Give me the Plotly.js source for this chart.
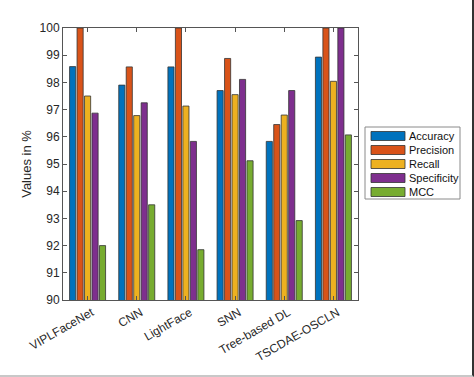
<!DOCTYPE html>
<html>
<head>
<meta charset="utf-8">
<script src="https://cdn.plot.ly/plotly-3.0.1.min.js"></script>
<style>
html,body{margin:0;padding:0;background:#fff;}
#wrap{width:472px;height:375px;border-right:2px solid #333;border-bottom:2px solid #c8c8c8;}
#chart{width:472px;height:375px;}
</style>
</head>
<body>
<div id="wrap"><div id="chart"></div></div>
<script>
const categories = ["VIPLFaceNet", "CNN", "LightFace", "SNN", "Tree-based DL", "TSCDAE-OSCLN"];
const seriesNames = ["Accuracy", "Precision", "Recall", "Specificity", "MCC"];
const accuracy    = [98.58, 97.90, 98.57, 97.70, 95.83, 98.93];
const precision   = [100.0, 98.57, 100.0, 98.88, 96.45, 100.0];
const recall      = [97.50, 96.78, 97.13, 97.55, 96.80, 98.04];
const specificity = [96.87, 97.25, 95.83, 98.11, 97.70, 100.0];
const mcc         = [92.00, 93.50, 91.85, 95.12, 92.92, 96.07];
const yTicks = [90, 91, 92, 93, 94, 95, 96, 97, 98, 99, 100];
const colors = ["#0072BD", "#D95319", "#EDB120", "#7E2F8E", "#77AC30"];

const seriesValues = [accuracy, precision, recall, specificity, mcc];
const traces = seriesValues.map((vals, i) => ({
  type: "bar",
  name: seriesNames[i],
  x: categories,
  y: vals,
  marker: {color: colors[i], line: {color: "#333333", width: 0.8}},
  showlegend: false
}));

const W = 472, H = 375;
const M = {l: 63, r: 114, t: 28, b: 75};
const pw = W - M.l - M.r, ph = H - M.t - M.b;
// pixel -> paper helpers for the legend box
const px = x => (x - M.l) / pw;
const py = y => (H - M.b - y) / ph;

const font = "Liberation Sans, Arial, sans-serif";
const shapes = [];
const annotations = [];
// legend frame
shapes.push({type: "rect", xref: "paper", yref: "paper",
  x0: px(365), x1: px(460), y0: py(199), y1: py(127),
  line: {color: "#8a8a8a", width: 1}, fillcolor: "#ffffff", layer: "above"});
seriesNames.forEach((name, i) => {
  const cy = 136 + i * 14;
  shapes.push({type: "rect", xref: "paper", yref: "paper",
    x0: px(371), x1: px(405), y0: py(cy + 4.5), y1: py(cy - 4.5),
    line: {color: "#333333", width: 0.8}, fillcolor: colors[i], layer: "above"});
  annotations.push({xref: "paper", yref: "paper", x: px(406.5), y: py(cy),
    xanchor: "left", yanchor: "middle", showarrow: false, text: name,
    font: {family: font, size: 11, color: "#111"}});
});

const axisFont = {family: font, size: 12, color: "#262626"};

const layout = {
  width: W,
  height: H,
  margin: M,
  paper_bgcolor: "#ffffff",
  plot_bgcolor: "#ffffff",
  barmode: "group",
  bargap: 0.24,
  bargroupgap: 0.18,
  showlegend: false,
  shapes: shapes,
  annotations: annotations,
  xaxis: {
    type: "category",
    tickangle: -30,
    tickfont: axisFont,
    ticklabelshift: 4,
    ticks: "inside",
    ticklen: 4,
    tickcolor: "#555",
    showline: true,
    linecolor: "#555",
    linewidth: 1,
    mirror: "ticks",
    showgrid: false,
    range: [-0.5, 5.5]
  },
  yaxis: {
    range: [90, 100],
    tickvals: yTicks,
    ticktext: yTicks.map(String),
    tickfont: axisFont,
    ticks: "inside",
    ticklen: 4,
    tickcolor: "#555",
    showline: true,
    linecolor: "#555",
    linewidth: 1,
    mirror: "ticks",
    showgrid: false,
    zeroline: false,
    title: {text: "Values in %", font: {family: font, size: 13, color: "#262626"}, standoff: 5}
  }
};

Plotly.newPlot("chart", traces, layout, {displayModeBar: false, staticPlot: true});
</script>
</body>
</html>
